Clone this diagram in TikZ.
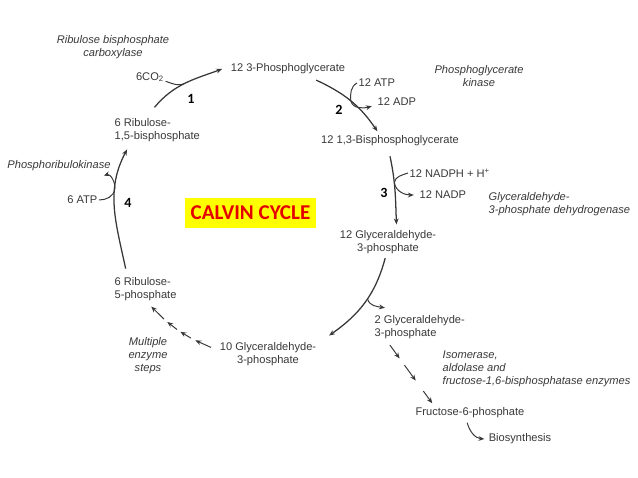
\documentclass[tikz,border=0pt]{standalone}
\usepackage{fontspec}
\setmainfont{Liberation Sans}
\newfontfamily\calibrifont{Carlito}
\usepackage{tikz}
\usetikzlibrary{arrows.meta,calc}
\usepackage{xcolor}
\definecolor{ink}{gray}{0.22}
\definecolor{hiyellow}{RGB}{255,255,0}
\definecolor{hired}{RGB}{228,0,0}

\begin{document}
\begin{tikzpicture}[
  x=0.025cm, y=0.025cm,
  >={Stealth[length=4.2pt,width=3.4pt]},
  every node/.style={font=\fontsize{7.9}{9.2}\selectfont, text=ink, inner sep=1pt},
  enzyme/.style={font=\fontsize{7.9}{9.2}\selectfont\itshape},
  stepno/.style={font=\calibrifont\bfseries\fontsize{10}{12}\selectfont, text=black},
  cyc/.style={draw=ink, line width=0.9pt, ->},
  side/.style={draw=ink, line width=0.7pt, ->},
  calvinbox/.style={fill=hiyellow, text=hired, inner sep=0pt,
    font=\calibrifont\bfseries\fontsize{15}{18}\selectfont,
    minimum width=3.275cm, minimum height=0.75cm}
]

% Frame (in pixel units, y downwards as negative)
\useasboundingbox (0,0) rectangle (638,-478);

% --- Metabolites ---
\node (pga) at (288,-69) {12 3-Phosphoglycerate};
\node[anchor=west, align=left] (rubp) at (113,-130.5) {6 Ribulose-\\1,5-bisphosphate};
\node (bpg) at (390,-141) {12 1,3-Bisphosphoglycerate};
\node[align=center] (g3p12) at (388,-242) {12 Glyceraldehyde-\\3-phosphate};
\node[anchor=west, align=left] (ru5p) at (113,-289) {6 Ribulose-\\5-phosphate};
\node[align=center] (g3p10) at (268,-354.5) {10 Glyceraldehyde-\\3-phosphate};
\node[anchor=west, align=left] (g3p2) at (373,-327.5) {2 Glyceraldehyde-\\3-phosphate};
\node (fru) at (470,-413) {Fructose-6-phosphate};
\node (bio) at (520,-439) {Biosynthesis};

% --- Cofactors ---
\node (co2) at (150,-77) {6CO\textsubscript{2}};
\node[anchor=west] (atp2) at (357,-83) {12 ATP};
\node[anchor=west] (adp2) at (376,-102) {12 ADP};
\node[anchor=west] (nadph) at (408,-173) {12 NADPH + H\textsuperscript{+}};
\node[anchor=west] (nadp) at (418,-195) {12 NADP};
\node[anchor=east] (atp4) at (99,-200) {6 ATP};

% --- Enzymes ---
\node[enzyme, align=center] (rbc) at (113,-47.5) {Ribulose bisphosphate\\carboxylase};
\node[enzyme, align=center] (pgk) at (479,-76.5) {Phosphoglycerate\\kinase};
\node[enzyme, anchor=west, align=left] (gapdh) at (487,-204.5) {Glyceraldehyde-\\3-phosphate dehydrogenase};
\node[enzyme] (prk) at (59,-166) {Phosphoribulokinase};
\node[enzyme, align=center] (mes) at (148,-356) {Multiple\\enzyme\\steps};
\node[enzyme, anchor=west, align=left] (iso) at (441,-369) {Isomerase,\\aldolase and\\fructose-1,6-bisphosphatase enzymes};

% --- Step numbers and title ---
\node[stepno] (n1) at (191,-99) {1};
\node[stepno] (n2) at (339,-110) {2};
\node[stepno] (n3) at (384,-193) {3};
\node[stepno] (n4) at (128,-203) {4};
\node[calvinbox] (calvin) at (250.5,-213) {CALVIN CYCLE};

% --- Step 1: carboxylation ---
\draw[cyc] ([shift={(-2pt,7pt)}]rubp.north) to[out=50,in=200]
  coordinate[pos=.5] (j1) ([xshift=-5pt]pga.west);
\draw[side,-] ([yshift=-3pt]co2.east) to[out=-20,in=205] (j1);

% --- Step 2: phosphorylation ---
\draw[cyc] ([shift={(20pt,-3pt)}]pga.south) to[out=-25,in=124]
  coordinate[pos=.5] (j2) ([shift={(-9pt,2pt)}]bpg.north);
\draw[side] (atp2.west) to[out=210,in=95] (j2)
  to[out=-75,in=195] ([shift={(-3pt,-3pt)}]adp2.west);

% --- Step 3: reduction ---
\draw[cyc] ([yshift=-6pt]bpg.south) to[out=-78,in=92]
  coordinate[pos=.38] (j3) ([shift={(6pt,3pt)}]g3p12.north);
\draw[side] (nadph.west) to[out=200,in=80] (j3)
  to[out=-80,in=180] ([xshift=-3pt]nadp.west);

% --- Split of glyceraldehyde-3-phosphate ---
\draw[cyc] ([shift={(-2pt,-2pt)}]g3p12.south) to[out=-105,in=35]
  coordinate[pos=.45] (j5) ([shift={(8pt,4pt)}]g3p10.north east);
\draw[side] (j5) to[out=-80,in=170] ([shift={(8.5pt,4.5pt)}]g3p2.north west);

% --- Step 4: regeneration ---
\draw[cyc] ([shift={(9pt,5pt)}]ru5p.north west) to[out=102,in=-118]
  coordinate[pos=.66] (j4) ([shift={(10pt,-4pt)}]rubp.south west);
\draw[side] (atp4.east) to[out=0,in=-100] (j4)
  to[out=80,in=20] ([shift={(-6pt,-2pt)}]prk.south east);

% --- Multiple enzyme steps ---
\path ([shift={(-5pt,5pt)}]g3p10.west) to[bend left=12]
  coordinate[pos=0]   (m0) coordinate[pos=.22] (m1)
  coordinate[pos=.29] (m2) coordinate[pos=.47] (m3)
  coordinate[pos=.53] (m4) coordinate[pos=.71] (m5)
  coordinate[pos=.77] (m6) coordinate[pos=1]   (m7)
  ([shift={(4pt,-3pt)}]ru5p.south);
\foreach \i/\j in {0/1,2/3,4/5,6/7}
  \draw[side] (m\i) -- (m\j);

% --- Towards fructose-6-phosphate ---
\coordinate (f0) at ([shift={(12pt,-3pt)}]g3p2.south west);
\coordinate (f1) at ([shift={(13pt,2pt)}]fru.north west);
\foreach \a/\b in {0/.23,.345/.61,.79/1}
  \draw[side] ($(f0)!\a!(f1)$) -- ($(f0)!\b!(f1)$);

\draw[side] ([shift={(-2pt,-2pt)}]fru.south) to[out=-75,in=175] ([xshift=-2pt]bio.west);

\end{tikzpicture}
\end{document}
